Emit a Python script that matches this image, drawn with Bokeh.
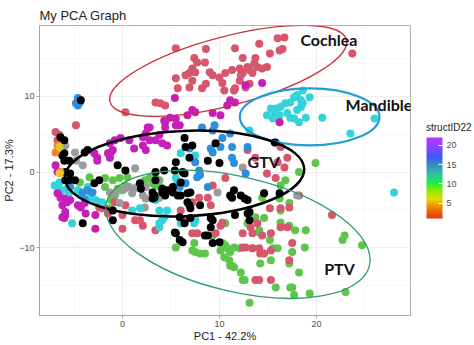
import numpy as np
from bokeh.plotting import figure
from bokeh.models import (Range1d, ColorBar, LinearColorMapper, FixedTicker,
                          SingleIntervalTicker, ColumnDataSource, Legend, LegendItem)
from bokeh.core.properties import value
from bokeh.embed import file_html
from bokeh.resources import INLINE

# ---------------- data ----------------
title_text = "My PCA Graph"
x_label = "PC1 - 42.2%"
y_label = "PC2 - 17.3%"
legend_title = "structID22"
legend_ticks = [5, 10, 15, 20]

red_x = [5.5, 8.6, 11.6, 14.1, 15.2, 7.4, 7.7, 8.5, 7.2, 6.9, 6.5, 7.5, 9.0, 9.3, 10.0, 10.6, 11.3, 12.1, 12.4, 13.1,
         13.6, 13.9, 14.4, 14.9, 13.4, 5.5, 7.2, 8.6, 8.2, 10.3, 10.5, 11.5, 12.1, 5.7, 6.9, 3.4, 3.9, 4.4, 16.0, 16.7,
         16.5, 16.2, 13.7, 12.9, 12.2, 13.1, 12.7, 11.6, 23.7, 12.4, 0.3, -4.8,
         16.3, 17.0, 16.0, 16.7, 14.9, 15.8, 12.9, 13.7, 10.6, 9.3, 7.9, 8.8, 7.2, 6.0, 6.5, 7.5, 10.3, 13.2, 12.4, 13.4,
         14.4, 15.3, 16.3, 17.0, 17.2, 16.3, 17.5, 15.3, 17.2, 14.2, 12.7, 13.4, 15.3, 14.1, 21.6, 9.1, 15.2, 18.2,
         2.1, 3.4, 7.2, 7.7, 9.6, 10.1, 13.9, 12.4, 14.1, 14.6, 13.7, 0.3, -0.8, -2.4, 0.0, 1.3, 0.0, -2.1, -1.5,
         -2.4, -1.8, 1.8, -6.9, -6.5, -6.7]
red_y = [16.4, 16.3, 16.4, 17.0, 15.7, 15.1, 14.5, 14.5, 13.7, 13.1, 12.8, 13.2, 13.2, 12.8, 12.5, 13.1, 13.5, 13.7, 13.1, 13.5,
         14.4, 13.9, 13.7, 13.9, 13.1, 12.4, 12.1, 11.7, 11.1, 11.8, 10.8, 10.8, 12.1, 11.1, 11.2, 9.2, 9.1, 8.8, 17.7, 17.8,
         16.3, 16.1, 15.1, 13.9, 12.8, 11.7, 11.2, 11.1, 15.7, 15.1, 7.9, 6.2,
         3.3, 1.9, 1.3, 0.6, -0.2, -0.8, 2.9, 1.9, -0.8, -1.8, -3.4, -3.4, -4.0, -5.1, -6.4, -6.4, -6.8, -7.3, -8.1, -8.1,
         -8.4, -8.1, -7.3, -7.3, -4.7, -4.8, -9.4, -10.4, -11.7, -10.8, -10.0, -10.1, -14.3, -14.3, -5.7, -4.4, -4.8, -3.1,
         -7.1, -7.7, -8.1, -8.1, -8.1, -7.1, -6.8, -10.0, -10.1, -10.8, -14.3, -4.4, -4.0, -4.7, -5.7, -6.4, -7.5, -4.8, -5.5,
         -4.0, -4.8, -6.4, 5.3, 4.9, 4.2]

magenta_x = [5.4, 11.1, 11.6, 10.8, 14.4, 12.7, 7.2, 7.5, 6.7, 9.3, 10.1, 4.9, 5.5, 4.3, 2.6, 4.4, 5.9, 16.2, 4.4, 5.5,
             3.8, 3.4, 4.1, 4.6, 2.8, 2.4, 2.1, -0.8, -0.2, 0.7, 1.2, 2.1, 2.4, -1.2, -1.3, -2.6, -2.6, -2.9, -1.5, -1.0,
             -1.3, 2.8, -6.9, -6.7, -6.7, -6.4, -6.0, -5.4, -6.2, -4.6, -4.3, -5.9, -6.2, -3.9, -5.7, -6.0, -5.9, -3.8,
             -2.8, -2.8]
magenta_y = [9.8, 9.5, 9.2, 8.8, 11.8, 11.5, 8.2, 7.9, 7.5, 7.8, 7.5, 7.2, 7.1, 6.8, 5.9, 5.9, 6.2, 6.6, 6.6, 6.2,
             4.9, 4.2, 3.8, 3.5, 4.2, 5.1, 4.6, 4.2, 4.5, 4.2, 3.1, 3.5, 2.9, 2.6, 1.9, 1.9, 1.5, 2.5, 2.5, 2.9,
             3.8, 5.9, 0.9, 0.0, -2.8, -3.4, -3.5, -3.7, -4.4, -4.4, -4.7, -5.7, -6.0, -4.1, -4.0, -6.1, -5.3, -5.5,
             -5.7, -7.5]

cyan_x = [18.6, 18.0, 17.7, 19.3, 18.4, 18.6, 17.3, 16.8, 18.4, 18.0, 16.3, 15.8, 15.3, 15.7, 14.9, 15.5, 16.2, 17.0,
          17.3, 17.7, 18.9, 18.2, 20.6, 26.0, 23.5, 13.1, 28.0,
          -7.0, -6.7, -6.2, -5.7, -4.6, -6.5, -5.5, -4.3, -3.4, -2.8, -2.1, -5.2, 1.0, 1.8, 3.8, 6.0, 7.5, 5.5, 5.5,
          3.8, 4.6, 3.8, 4.1, 4.3, 6.0, 7.4, 7.5, 3.4, -3.6]
cyan_y = [10.8, 10.2, 9.9, 9.9, 9.5, 9.1, 9.2, 9.1, 8.6, 8.2, 8.6, 8.4, 8.4, 7.9, 7.5, 7.1, 7.5, 7.8,
          7.2, 7.1, 7.2, 6.6, 7.2, 7.1, 5.1, 5.5, -2.7,
          -1.8, -2.0, -2.4, -2.2, -2.4, -1.4, -2.7, -3.1, -3.4, -3.7, -4.0, -6.8, -5.1, -4.8, -7.3, 2.5, 2.2, -0.8, -1.8,
          -5.1, -5.1, -6.8, -6.4, -6.0, -6.8, -6.8, -6.4, -3.7, -2.0]

blue_x = [-4.6, -4.8, -4.4, -4.6, 8.2, 9.3, 10.3, 9.1, 9.3, 10.1, 11.3, 6.9, 11.5, 12.7, 7.7, 8.0, 6.5, 5.9, 8.8,
          15.8, 12.9, 11.3, -4.1, -3.6, -3.1, -3.9, 9.5, 11.1, 7.5, 7.9, -5.4]
blue_y = [9.8, 9.1, 9.2, 8.8, 5.9, 5.5, 4.5, 3.1, 2.6, 3.3, 3.3, 3.1, 1.2, -0.2, -0.7, -0.4, -1.5, -2.0, -2.0,
          3.9, 3.3, 1.9, -2.7, -2.4, -2.7, -3.7, 6.2, 5.1, 1.3, 0.2, -2.0]

grey_x = [-5.9, -4.9, 1.3, 0.2, -0.7, 1.0, 1.5, 2.4, 2.1, 0.7, -0.3, -1.3, 2.3, 3.8, 3.6, 2.4, 9.8, 12.4, 18.0,
          -4.8, -4.1]
grey_y = [3.5, 2.6, 0.5, -2.2, -2.8, -2.8, -2.0, -2.0, -3.1, -2.0, -4.1, -2.7, -4.7, -3.4, -1.1, -3.5, -2.7, 0.6, -3.1,
          1.5, 0.9]

green_x = [5.5, 7.4, 7.2, 7.5, 8.0, 8.5, 10.3, 10.1, 10.6, 10.5, 11.0, 11.3, 10.8, 11.1, 11.5, 12.1, 12.9, 14.1, 15.2,
           14.2, 13.4, 12.4, 13.1, 15.3, 10.6, 10.3, 9.3, 19.9, 18.2, 16.8, 16.2, 16.3, 14.4, 13.7, 14.6, 14.1, 16.0,
           17.2, 17.8, 18.9, 18.8, 17.5, 17.2, 18.2, 19.3, 17.3, 17.7, 15.8, 12.6, 22.9, 22.7, 24.7, 23.0, 11.1, 11.5,
           12.2, 3.4, 3.1, 16.3, 17.2, 16.3, 15.5, 17.5, -1.8, -1.0, -0.3, 0.3, 1.2, 3.8, 3.9, -4.4, -3.4, -1.8, -0.5,
           2.8, 3.4, 0.5, 2.3, 0.0, -0.8, -1.2, -1.3]
green_y = [-10.0, -9.4, -10.4, -10.6, -10.8, -10.8, -9.4, -10.4, -9.7, -11.3, -11.7, -12.4, -10.1, -10.6, -10.0, -10.1,
           -6.8, -8.0, -9.0, -12.1, -10.1, -14.3, -17.3, -11.7, -6.8, -6.7, -8.4, 1.2, 0.0, -1.1, -3.5, -5.1, -3.4, -6.0,
           -6.1, -7.7, -10.1, -7.1, -7.7, -7.7, -10.0, -10.6, -12.1, -13.3, -16.1, -15.3, -16.3, -15.3, -14.3, -8.4,
           -9.0, -9.7, -15.9, -12.4, -12.6, -13.3, -1.8, -1.5, -1.8, -4.1, -6.7, -10.1, -15.3, -0.8, -1.1, -0.8, -1.8,
           -2.2, -1.1, -2.0, -1.4, -0.7, -2.0, -2.2, -0.8, -0.2, -0.7, -1.1, -2.4, -3.1, -3.7, -4.8]

black_x = [6.4, 6.5, 6.9, 9.6, 8.8, 10.0, 5.5, 5.4, 4.3, 3.4, 6.2, 6.4, 6.0, 4.1, 4.6, 5.2, 4.1, 3.3, 3.1, 7.0, 6.7,
           6.9, 7.0, 11.1, 11.5, 12.2, 12.6, 12.9, 13.1, 11.6, 7.0, 5.9, 5.2, 5.7, 6.4, 5.4, 5.9, 9.1, 9.1, 8.8, 9.3,
           10.0, 12.9, 14.6, 16.2, 15.7, -4.3, -3.6, -3.9, -0.5, 0.3, -2.4, -2.9, -6.2, -6.0, -5.9, -5.4, -5.5, -4.9,
           -6.4, -6.0, -6.0, -5.5, -5.9, -1.0, -4.1, 1.8, 1.9, 3.3, -1.0, 7.2, 11.3, 13.1, 9.3, 6.2, 8.5, 3.4, 3.1, 4.4,
           4.9, 6.0, 6.7, 8.0, 5.5]
black_y = [4.5, 3.3, 1.9, 3.8, 1.5, 1.2, 1.3, 0.2, 0.2, 0.0, 0.0, -0.2, -1.4, -2.2, -2.4, -2.7, -2.7, -3.1, -3.5, -2.7,
           -4.0, -4.4, -4.8, -3.1, -2.4, -3.1, -3.5, -3.7, -5.3, -5.7, -6.1, -6.0, -2.0, -3.1, -6.8, -8.0, -9.0, -6.1,
           -7.3, -8.4, -9.4, -9.3, -5.5, -2.8, -2.8, 3.9, 9.5, 2.9, 2.6, 0.9, 0.2, -1.1, -1.5, 2.2, 1.5, 0.0, -0.2, -1.1,
           -1.1, 4.6, 4.2, 2.5, 1.5, -1.1, -6.4, -6.8, -1.5, -2.2, -3.4, -5.1, 3.5, -3.4, -6.4, -6.4, -9.3, -8.4, -1.1,
           -2.7, -3.1, -2.4, -3.1, -2.8, -4.4, -8.1]

orange_x = [-6.7, -6.9, -6.4]
orange_y = [3.5, 2.6, 0.0]
yellow_x = [-6.5, -6.5]
yellow_y = [3.3, -0.2]

# ellipses (centre, full width, full height, tilt) and their labels
ell_names = ["Cochlea", "Mandible", "GTV", "PTV"]
ell_x = [10.9, 19.3, 6.4, 11.9]
ell_y = [13.4, 7.3, -0.2, -8.25]
ell_w = [25.2, 14.4, 24.7, 27.9]
ell_h = [9.1, 7.55, 11.3, 15.2]
ell_angle = [0.257, 0.0, 0.04, -0.234]
label_x = [18.35, 23.0, 12.9, 20.8]
label_y = [17.6, 9.0, 1.4, -12.8]

# ---------------- styling ----------------
group_colors = {
    "green": "#5ec54c", "red": "#d6566c", "grey": "#9b9b9b", "cyan": "#34d2db",
    "blue": "#2e8fd8", "magenta": "#c41fb6", "black": "#000000",
    "orange": "#f0822c", "yellow": "#e3c62a",
}
ell_colors = ["#c8323c", "#1f9fd8", "#000000", "#2c9a72"]
ell_widths = [1.3, 2.2, 2.5, 1.3]

# rainbow palette for the colour bar (bottom -> top)
stops_v = [1, 3.3, 5, 6, 8.4, 10.1, 12.7, 15.3, 17, 19.6, 22]
stops_c = ["#e8341c", "#f07400", "#eab000", "#e2dc00", "#84ec00", "#22ee44",
           "#2ec0a0", "#3a84c8", "#3a5cff", "#8a44ff", "#b43cff"]


def hex2rgb(h):
    return [int(h[i:i + 2], 16) for i in (1, 3, 5)]


rgb = np.array([hex2rgb(c) for c in stops_c], dtype=float)
vals = np.linspace(1, 22, 256)
palette = []
for v in vals:
    r = np.interp(v, stops_v, rgb[:, 0])
    g = np.interp(v, stops_v, rgb[:, 1])
    b = np.interp(v, stops_v, rgb[:, 2])
    palette.append("#%02x%02x%02x" % (int(r), int(g), int(b)))

p = figure(frame_width=371, frame_height=290,
           x_range=Range1d(-8.56, 29.7), y_range=Range1d(-19.0, 19.4),
           output_backend="svg", toolbar_location=None,
           min_border_left=36, min_border_right=66, min_border_top=25, min_border_bottom=30,
           title=title_text)

p.title.text_font = "Liberation Sans"
p.title.text_font_size = "13px"
p.title.text_font_style = "normal"
p.title.text_color = "#222222"
p.title.standoff = 6

p.background_fill_color = "white"
p.border_fill_color = "white"
p.outline_line_color = "#b3b3b3"
p.outline_line_width = 1

for ax, lab in ((p.xaxis[0], x_label), (p.yaxis[0], y_label)):
    ax.axis_label = lab
    ax.ticker = SingleIntervalTicker(interval=10, num_minor_ticks=2)
    ax.axis_label_text_font = "Liberation Sans"
    ax.axis_label_text_font_size = "11px"
    ax.axis_label_text_font_style = "normal"
    ax.axis_label_text_color = "#222222"
    ax.axis_label_standoff = 1
    ax.major_label_text_font = "Liberation Sans"
    ax.major_label_text_font_size = "9px"
    ax.major_label_text_color = "#4d4d4d"
    ax.major_label_standoff = 1
    ax.axis_line_color = "#a6a6a6"
    ax.major_tick_line_color = "#a6a6a6"
    ax.major_tick_out = 3
    ax.major_tick_in = 0
    ax.minor_tick_line_color = None
p.xaxis[0].axis_label_standoff = 0

for g in (p.xgrid[0], p.ygrid[0]):
    g.grid_line_color = "#ebebeb"
    g.grid_line_width = 0.8
    g.minor_grid_line_color = "#f4f4f4"
    g.minor_grid_line_width = 0.6

# points
groups = [("green", green_x, green_y), ("red", red_x, red_y), ("grey", grey_x, grey_y),
          ("cyan", cyan_x, cyan_y), ("blue", blue_x, blue_y), ("magenta", magenta_x, magenta_y),
          ("black", black_x, black_y), ("orange", orange_x, orange_y), ("yellow", yellow_x, yellow_y)]
for name, xs, ys in groups:
    p.scatter(x=xs, y=ys, size=8, fill_color=group_colors[name], line_color=None)

# ellipses
esrc = ColumnDataSource(dict(x=ell_x, y=ell_y, w=ell_w, h=ell_h, a=ell_angle,
                             c=ell_colors, lw=ell_widths))
p.ellipse(x="x", y="y", width="w", height="h", angle="a", source=esrc,
          fill_color=None, line_color="c", line_width="lw")

# labels
p.text(x=label_x, y=label_y, text=ell_names, text_font=value("Lato"),
       text_font_style="bold", text_font_size="16px", text_color="#111111",
       text_align="left", text_baseline="middle")

# colour bar
mapper = LinearColorMapper(palette=palette, low=1, high=22)
cb = ColorBar(color_mapper=mapper, ticker=FixedTicker(ticks=legend_ticks),
              width=16, height=81, location=(387, 97), padding=0, margin=0,
              major_label_text_font="Liberation Sans", major_label_text_font_size="9px",
              major_label_text_color="#4d4d4d", label_standoff=4,
              major_tick_line_color="white", major_tick_in=4, major_tick_out=0,
              bar_line_color=None, border_line_color=None, background_fill_alpha=0)
p.add_layout(cb)

# colour-bar title: a legend (in the right side panel) holding only its horizontal title
dummy = p.scatter(x=[], y=[], size=1, fill_alpha=0, line_alpha=0)
leg = Legend(items=[LegendItem(label=" ", renderers=[dummy])], title=legend_title,
             location=(16, 181), padding=0, margin=0, spacing=0,
             glyph_width=1, glyph_height=1, label_height=1, label_width=1,
             label_text_font_size="1px", title_standoff=0,
             title_text_font="Liberation Sans", title_text_font_size="10px",
             title_text_font_style="normal", title_text_color="#222222",
             background_fill_alpha=0, border_line_color=None)
p.add_layout(leg, "right")

open("out.html", "w").write(file_html(p, INLINE))
